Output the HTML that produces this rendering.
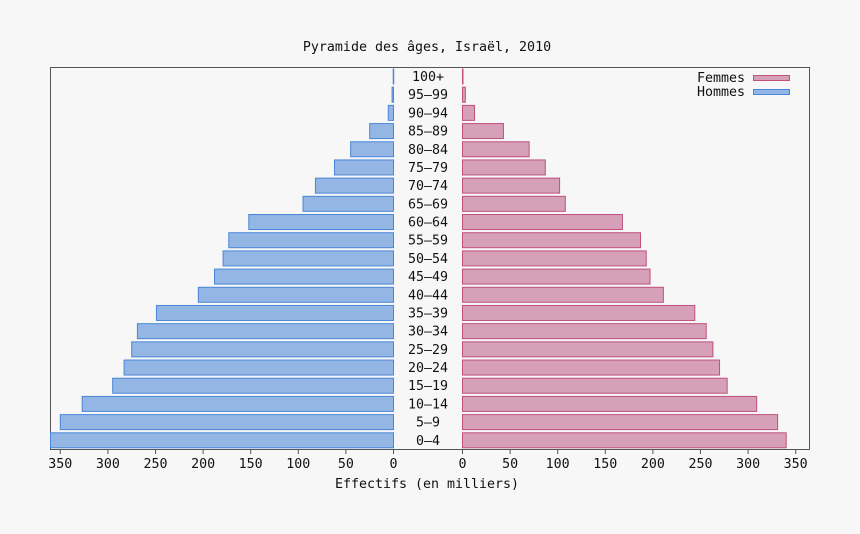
<!DOCTYPE html>
<html><head><meta charset="utf-8"><style>
html,body{margin:0;padding:0;background:#f7f7f7;}
svg text{font-family:"DejaVu Sans Mono","Liberation Mono",monospace;font-size:13.3px;fill:#111;}
</style></head><body>
<svg id="c" width="860" height="529" viewBox="0 0 860 529">
<rect x="0" y="0" width="860" height="529" fill="#f7f7f7"/>
<text x="427" y="51" text-anchor="middle">Pyramide des âges, Israël, 2010</text>
<rect x="50.5" y="67.5" width="759" height="382" fill="none" stroke="#555"/>
<g id="bars"></g>
<g id="axes"></g>
<text x="427" y="488" text-anchor="middle">Effectifs (en milliers)</text>
<g>
<text x="745" y="82" text-anchor="end">Femmes</text>
<rect x="753.5" y="75.5" width="36" height="5" fill="#d6a0b8" stroke="#c0507e"/>
<text x="745" y="96" text-anchor="end">Hommes</text>
<rect x="753.5" y="89.5" width="36" height="5" fill="#94b6e4" stroke="#4a86d8"/>
</g>
</svg>
<script>
const ages = ["100+","95-99","90-94","85-89","80-84","75-79","70-74","65-69","60-64","55-59","50-54","45-49","40-44","35-39","30-34","25-29","20-24","15-19","10-14","5-9","0-4"];
const hommes = [0.3,1.5,5.5,25,45,62,82,95,152,173,179,188,205,249,269,275,283,295,327,350,365];
const femmes = [0.5,3,12.6,43,70,87,102,108,168,187,193,197,211,244,256,263,270,278,309,331,340];
const ticks = [0,50,100,150,200,250,300,350];
const NS="http://www.w3.org/2000/svg";
const S=0.952, L0=393.5, R0=462.5, TOP=68, RH=18.19, BH=15;
const xl=v=>L0-v*S, xr=v=>R0+v*S, yRow=i=>TOP+i*RH;
function mk(t,a,p){const e=document.createElementNS(NS,t);for(const k in a)e.setAttribute(k,a[k]);p.appendChild(e);return e;}
const bars=document.getElementById('bars'), axes=document.getElementById('axes');
ages.forEach((a,i)=>{
  const y=yRow(i)+1;
  const lx=Math.max(50.5,xl(hommes[i]));
  const h=mk('rect',{x:lx,y:y,width:Math.max(0.5,L0-lx),height:BH,fill:'#94b6e4',stroke:'#4a86d8','stroke-width':1},bars);
  
  
  const f=mk('rect',{x:R0,y:y,width:Math.max(0.5,xr(femmes[i])-R0),height:BH,fill:'#d6a0b8',stroke:'#c0507e','stroke-width':1},bars);
  
  
  const t=mk('text',{x:428,y:y+12,'text-anchor':'middle'},bars);
  t.textContent=a.replace('-','–');
  
  
});
mk('line',{x1:50,x2:L0,y1:449.5,y2:449.5,stroke:'#555'},axes);
mk('line',{x1:R0,x2:810,y1:449.5,y2:449.5,stroke:'#555'},axes);
ticks.forEach(v=>{
  [[xl(v),'left'],[xr(v),'right']].forEach(([x,s])=>{
    mk('line',{x1:x,x2:x,y1:449,y2:454,stroke:'#555'},axes);
    const t=mk('text',{x:x,y:468,'text-anchor':'middle'},axes);
    t.textContent=v;
    
    
  });
});
</script>
</body></html>
